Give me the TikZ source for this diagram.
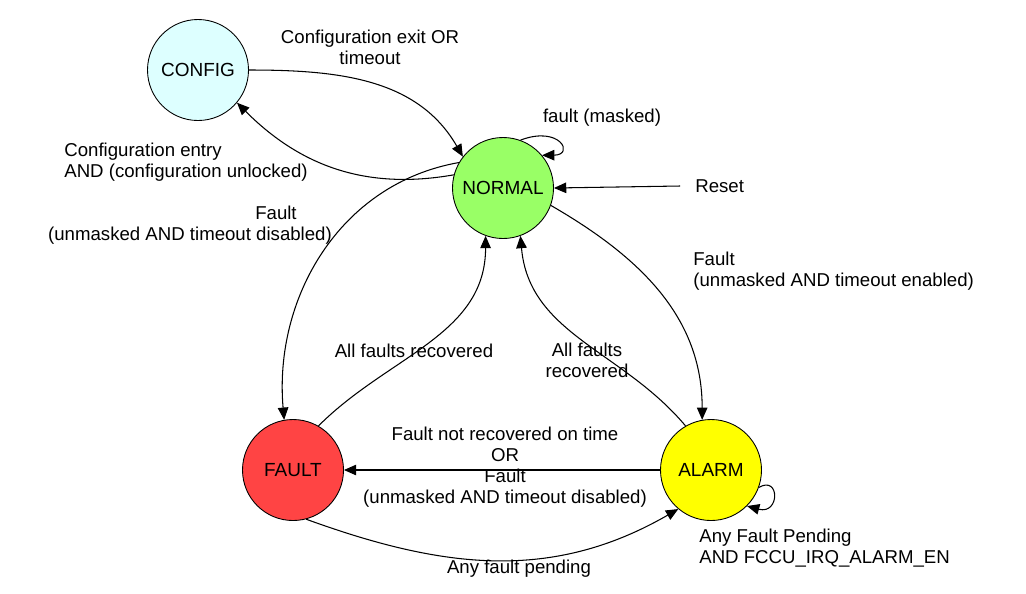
\documentclass[tikz,border=0pt]{standalone}
\usepackage{fontspec}
\setmainfont{Liberation Sans}
\usetikzlibrary{arrows.meta}
\begin{document}
\begin{tikzpicture}[x=0.02cm,y=-0.02cm,
  st/.style={circle,draw,line width=0.5pt,minimum size=101*0.02cm,inner sep=0pt,font=\fontsize{10.8}{12}\selectfont},
  ed/.style={draw,line width=0.6pt,-{Triangle[length=7pt,width=6pt]}},
  lb/.style={font=\fontsize{10.6}{12}\selectfont,align=center,inner sep=0pt}]
\useasboundingbox (0,0) rectangle (1026,593);
\node[st,fill={rgb,255:red,221;green,255;blue,255}] (config) at (198,70) {CONFIG};
\node[st,fill={rgb,255:red,153;green,255;blue,102}] (normal) at (503,188) {NORMAL};
\node[st,fill={rgb,255:red,255;green,68;blue,68}] (fault) at (293,470) {FAULT};
\node[st,fill={rgb,255:red,255;green,255;blue,0}] (alarm) at (711,470) {ALARM};
\coordinate (reset) at (680,186);
\draw[ed] (config.east) to[out=0,in=120] (normal.142);
\draw[ed] (normal.165) to[out=190,in=-45] (config.-40);
\draw[ed] (normal.70) .. controls (560,125) and (575,155) .. (normal.40);
\draw[ed] (reset) -- (normal.east);
\draw[ed] (normal.150) to[out=190,in=95] (fault.100);
\draw[ed] (fault.60) to[out=45,in=-90] (normal.-110);
\draw[ed] (alarm.120) to[out=130,in=-85] (normal.-70);
\draw[ed] (normal.-20) to[out=-30,in=90] (alarm.100);
\draw[ed] (alarm.west) -- (fault.east);
\draw[ed] (fault.-75) to[out=-20,in=210] (alarm.-130);
\draw[ed] (alarm.-20) .. controls (780,475) and (780,515) .. (alarm.-45);
\node[lb] at (370,47) {Configuration exit OR\\timeout};
\node[lb,align=left,anchor=west] at (64,162) {Configuration entry\\AND (configuration unlocked)};
\node[lb] at (602,118) {fault (masked)};
\node[lb,anchor=west] at (695,186) {Reset};
\node[lb,align=right] at (190,225) {Fault\hspace*{20pt}\\(unmasked AND timeout disabled)};
\node[lb,align=left,anchor=west] at (693,271) {Fault\\(unmasked AND timeout enabled)};
\node[lb] at (414,351) {All faults recovered};
\node[lb] at (587,360) {All faults\\recovered};
\node[lb] at (505,467) {Fault not recovered on time\\OR\\Fault\\(unmasked AND timeout disabled)};
\node[lb] at (519,569) {Any fault pending};
\node[lb,align=left,anchor=west] at (699,548) {Any Fault Pending\\AND FCCU\_IRQ\_ALARM\_EN};
\end{tikzpicture}
\end{document}
